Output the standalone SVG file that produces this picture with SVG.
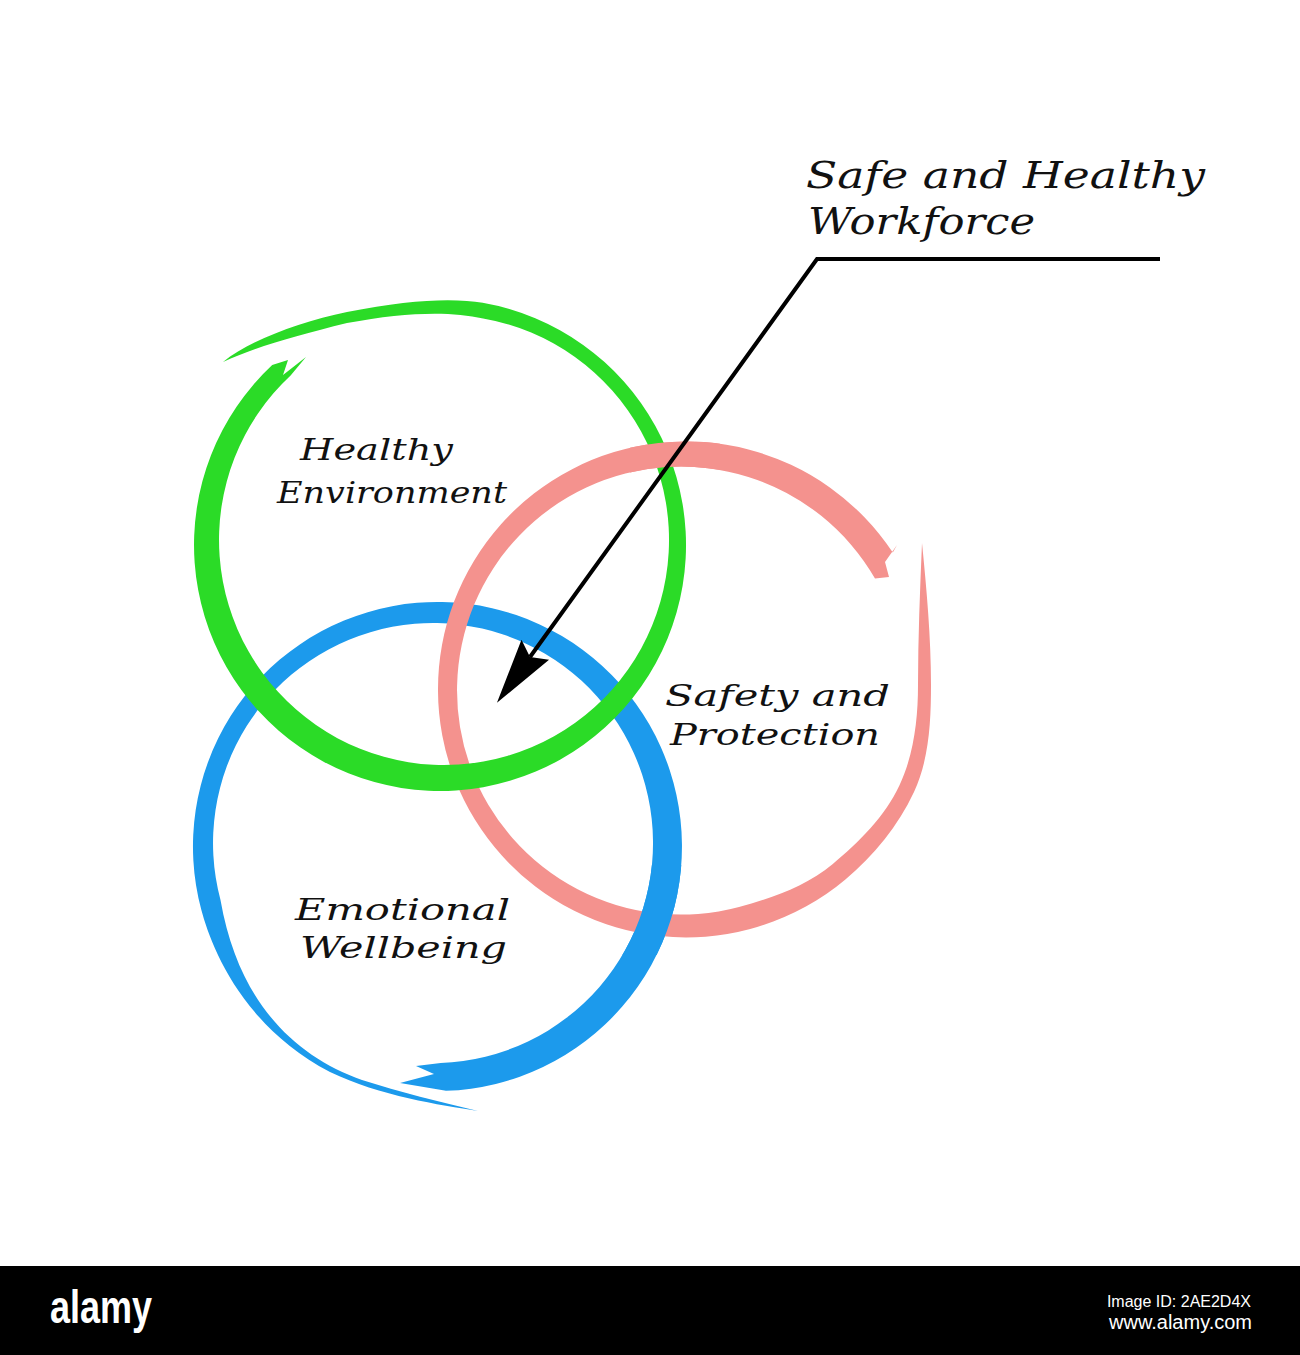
<svg xmlns="http://www.w3.org/2000/svg" width="1300" height="1355" viewBox="0 0 1300 1355">
<style>
.lbl{font-family:"DejaVu Serif","Liberation Serif",serif;font-style:italic;fill:#111;font-size:30px}
.ttl{font-family:"DejaVu Serif","Liberation Serif",serif;font-style:italic;fill:#111;font-size:38px}
.green{fill:#2bdb27}
.pink{fill:#f4928e}
.blue{fill:#1c9aec}
.conn{fill:none;stroke:#000;stroke-width:4;stroke-linejoin:miter}
.wm{font-family:"Liberation Sans Narrow","Liberation Sans",sans-serif;fill:#fff}
</style>
<defs>
<marker id="ah" markerUnits="userSpaceOnUse" markerWidth="70" markerHeight="40" viewBox="-10 -20 70 40" refX="0" refY="0" orient="auto" overflow="visible">
<path d="M56.5,0 L-9,-17 L0,0 L-9,17 Z" fill="#000"/>
</marker>
<clipPath id="clipPinkTop"><rect x="630" y="425" width="90" height="70"/></clipPath>
<clipPath id="clipBlueBR"><rect x="615" y="865" width="90" height="90"/></clipPath>
</defs>
<rect width="1300" height="1355" fill="#fff"/>

<g id="node-emotional-wellbeing">
<path id="blueRing" class="blue" d="M446,1090.85 A244.5 244.5 0 1 0 201.3,909.8 C210.4,943.6 240,1025 330,1072 C380,1096 440,1105 478,1111 C440,1102 400,1092 362,1080 C292,1055 238,1000 220.5,899.9 A220 220 0 1 1 440.7,1062.9 L416,1066 L434,1074 L400,1083 Z"/>
<text class="lbl" x="295" y="920" textLength="215" lengthAdjust="spacingAndGlyphs">Emotional</text>
<text class="lbl" x="300" y="958" textLength="207" lengthAdjust="spacingAndGlyphs">Wellbeing</text>
</g>

<g id="node-safety-protection">
<path id="pinkRing" class="pink" d="M892.8,552.6 A248 248 0 1 0 750.2,929 C785,919.7 817.8,902.6 845.4,879.5 C873.7,855.7 898.3,825.5 914,792 C929.2,759.4 931,721 931,685 C931,638 926.7,590 922,543 C920,590 918,638 918,685 C918,719 913.9,754.4 899.5,785.2 C884.9,816.5 858.9,842 832.5,864.2 C806.5,886.1 771.8,898.1 739,906.9 A224 224 0 1 1 875,578.5 L889,577 L885,562 L897,545 Z"/>
<text class="lbl" x="665" y="706" textLength="225" lengthAdjust="spacingAndGlyphs">Safety and</text>
<text class="lbl" x="670" y="745" textLength="210" lengthAdjust="spacingAndGlyphs">Protection</text>
</g>

<g id="node-healthy-environment">
<path id="greenRing" class="green" d="M272.2,365.1 A246 246 0 1 0 482.7,302.7 C455,298 410,299 347,312 C300,322 250,340 223,362 C255,347 295,336 347,323 C405,312 450,311 483.1,318.4 A225 225 0 1 1 290.6,375.4 L306,357 L283,375 L288,360 Z"/>
<text class="lbl" x="300" y="460" textLength="153" lengthAdjust="spacingAndGlyphs">Healthy</text>
<text class="lbl" x="277" y="503" textLength="230" lengthAdjust="spacingAndGlyphs">Environment</text>
</g>

<g id="overlaps">
<use href="#pinkRing" clip-path="url(#clipPinkTop)"/>
<use href="#blueRing" clip-path="url(#clipBlueBR)"/>
</g>

<g id="node-title">
<text class="ttl" x="806" y="188" textLength="399" lengthAdjust="spacingAndGlyphs">Safe and Healthy</text>
<text class="ttl" x="808" y="234" textLength="227" lengthAdjust="spacingAndGlyphs">Workforce</text>
</g>

<g id="connectors">
<polyline class="conn" points="1160,259 817,259 530,657" marker-end="url(#ah)"/>
</g>

<g id="watermark-bar">
<rect x="0" y="1266" width="1300" height="89" fill="#000"/>
<text class="wm" x="50" y="1323" font-size="46" font-weight="bold" textLength="102" lengthAdjust="spacingAndGlyphs">alamy</text>
<text class="wm" x="1251" y="1307" font-size="16" text-anchor="end" fill="#e0e0e0">Image ID: 2AE2D4X</text>
<text class="wm" x="1252" y="1329" font-size="20" text-anchor="end">www.alamy.com</text>
</g>
</svg>
